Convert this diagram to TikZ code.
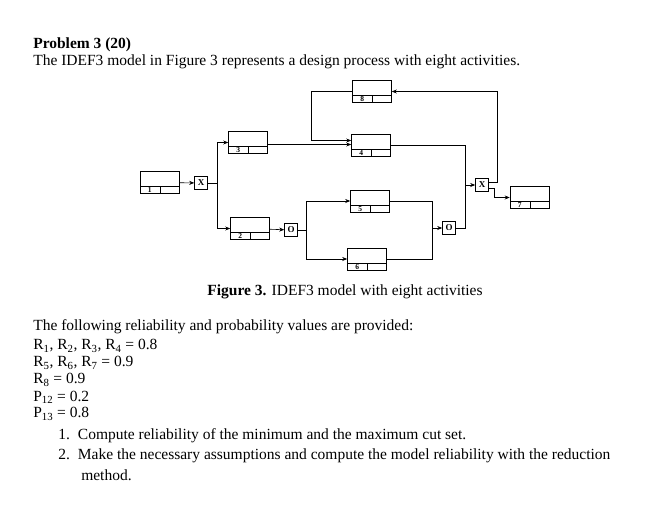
\documentclass[tikz,border=0pt]{standalone}
\usepackage{fontspec}
\setmainfont{Liberation Serif}
\usetikzlibrary{arrows.meta}
\begin{document}
\begin{tikzpicture}[x=1pt,y=-1pt,>={Stealth[length=5pt,width=4pt]},line width=0.6pt,
 act/.style={draw, minimum width=39pt, minimum height=22pt, inner sep=0pt,
  path picture={\draw ([yshift=7pt]path picture bounding box.south west) -- ([yshift=7pt]path picture bounding box.south east);
   \draw ([xshift=20pt,yshift=7pt]path picture bounding box.south west) -- ([xshift=20pt]path picture bounding box.south west);}},
 num/.style={font=\bfseries\fontsize{7.5}{7.5}\selectfont, inner sep=0pt},
 gate/.style={draw, minimum size=13pt, inner sep=0pt, font=\bfseries\fontsize{9}{9}\selectfont},
 txt/.style={anchor=west, inner sep=0pt, font=\fontsize{15.5}{17}\selectfont}]
\useasboundingbox (0,0) rectangle (669,509);
% boxes
\node[act] (b1) at (159.5,182.5) {};
\node[act] (b3) at (248,142.5) {};
\node[act] (b2) at (250,228.5) {};
\node[act] (b5) at (370,201) {};
\node[act] (b6) at (367,259) {};
\node[act] (b4) at (371,145.5) {};
\node[act] (b8) at (372,91.5) {};
\node[act] (b7) at (529.5,197.5) {};
\foreach \b/\n in {b1/1,b2/2,b3/3,b4/4,b5/5,b6/6,b7/7,b8/8}
 \node[num] (n\n) at ([xshift=10pt,yshift=3.5pt]\b.south west) {\n};
% gates
\node[gate] (g1) at (201,183) {X};
\node[gate] (o1) at (291,230) {O};
\node[gate] (o2) at (449,228) {O};
\node[gate] (g2) at (482,185) {X};
\coordinate (s1) at (217,183);
\coordinate (s2) at (306,230);
\coordinate (j) at (432,228);
\coordinate (k) at (465,185);
\coordinate (m) at (497,182);
\coordinate (q) at (311,91.5);
% connectors
\draw[->] (b1) -- (g1);
\draw (g1.east) -- (s1);
\draw[->] (s1) |- (b3.west);
\draw[->] (s1) |- (b2.west);
\draw[->] (b2) -- (o1);
\draw (o1.east) -- (s2);
\draw[->] (s2) |- (b5.west);
\draw[->] (s2) |- (b6.west);
\draw (b5.east) -| (j);
\draw (b6.east) -| (j);
\draw[->] (j) -- (o2.west);
\draw[->] ([yshift=-2pt]b3.east) -- ([yshift=-2pt]b3.east -| b4.west);
\draw (o2.east) -| (k);
\draw (b4.east) -| (k);
\draw[->] (k) -- (g2.west);
\draw[->] ([yshift=3pt]g2.east) -- (m) |- (b8.east);
\draw[->] ([yshift=-3pt]g2.east) -- ++(5,0) |- (b7.west);
\draw[->] (b8.west) -- (q) |- ([yshift=5pt]b4.west);
% texts
\node[txt,font=\bfseries\fontsize{15.5}{17}\selectfont] (t0) at (33,45) {Problem 3 (20)};
\node[txt] (t1) at (33,62) {The IDEF3 model in Figure 3 represents a design process with eight activities.};
\node[inner sep=0pt,font=\fontsize{15.5}{17}\selectfont] (cap) at (345,292) {\textbf{Figure 3.} IDEF3 model with eight activities};
\node[txt] (t2) at (33,327) {The following reliability and probability values are provided:};
\node[txt] (t3) at (33,346) {R\textsubscript{1}, R\textsubscript{2}, R\textsubscript{3}, R\textsubscript{4} = 0.8};
\node[txt] (t4) at (33,363) {R\textsubscript{5}, R\textsubscript{6}, R\textsubscript{7} = 0.9};
\node[txt] (t5) at (33,380) {R\textsubscript{8} = 0.9};
\node[txt] (t6) at (33,397) {P\textsubscript{12} = 0.2};
\node[txt] (t7) at (33,414) {P\textsubscript{13} = 0.8};
\node[txt] (t8) at (58,436) {1.\hspace{8pt}Compute reliability of the minimum and the maximum cut set.};
\node[txt] (t9) at (58,456) {2.\hspace{8pt}Make the necessary assumptions and compute the model reliability with the reduction};
\node[txt] (t10) at (81,475) {method.};
\end{tikzpicture}
\end{document}
